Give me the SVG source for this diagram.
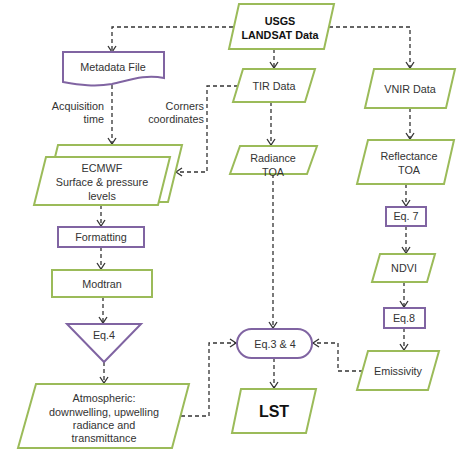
<svg xmlns="http://www.w3.org/2000/svg" width="474" height="455" viewBox="0 0 474 455">
<style>
.g{fill:#fff;stroke:#9bbb59;stroke-width:2}
.p{fill:#fff;stroke:#8064a2;stroke-width:2}
text{font-family:"Liberation Sans",Arial,sans-serif;font-size:10.8px;fill:#333;text-anchor:middle}
.b{font-weight:bold;fill:#111}
.lbl{text-anchor:end}
.c{fill:none;stroke:#333;stroke-width:1.3;stroke-dasharray:4 3;marker-end:url(#a)}
</style>
<defs>
<marker id="a" viewBox="-7 -5 9 10" refX="0" refY="0" markerWidth="9" markerHeight="10" markerUnits="userSpaceOnUse" orient="auto">
<path d="M-6,-4 L0,0 L-6,4" fill="none" stroke="#333" stroke-width="1.3"/>
</marker>
</defs>
<rect width="474" height="455" fill="#fff"/>
<g id="connectors">
<path class="c" d="M233,27 H112 V52"/>
<path class="c" d="M329,27 H410 V68"/>
<path class="c" d="M274,49 V68"/>
<path class="c" d="M238,86 H207 V172 H176"/>
<path class="c" d="M112,85 V144"/>
<path class="c" d="M101,205 V226"/>
<path class="c" d="M101,247 V269"/>
<path class="c" d="M103,297 V323"/>
<path class="c" d="M104,362 V383"/>
<path class="c" d="M181,416 H209 V343 H236"/>
<path class="c" d="M271,102 V145"/>
<path class="c" d="M273,174 V328"/>
<path class="c" d="M274,358 V388"/>
<path class="c" d="M410,108 V139"/>
<path class="c" d="M406,184 V206"/>
<path class="c" d="M406,226 V253"/>
<path class="c" d="M404,282 V307"/>
<path class="c" d="M404,328 V350"/>
<path class="c" d="M363,371 H338 V343 H313"/>
</g>
<g id="labels">
<text class="lbl" x="104" y="110">Acquisition</text>
<text class="lbl" x="104" y="123">time</text>
<text class="lbl" x="204" y="110">Corners</text>
<text class="lbl" x="204" y="123">coordinates</text>
</g>
<g id="usgs">
<polygon class="g" points="239,4 334,4 324,49 229,49"/>
<text class="b" x="280" y="25">USGS</text>
<text class="b" x="280" y="39">LANDSAT Data</text>
</g>
<g id="metadata">
<path class="p" d="M63,52 H164 V78 C145,74 130,80 112,84 C95,87 80,85 63,82 Z"/>
<text x="113" y="71">Metadata File</text>
</g>
<g id="tir">
<polygon class="g" points="243,69 315,69 305,102 233,102"/>
<text x="274" y="90">TIR Data</text>
</g>
<g id="vnir">
<polygon class="g" points="374,69 455,69 446,108 365,108"/>
<text x="410" y="93">VNIR Data</text>
</g>
<g id="ecmwf">
<polygon class="g" points="58,145 182,145 168,202 44,202"/>
<polygon class="g" points="46,157 170,157 158,205 34,205"/>
<text x="102" y="172">ECMWF</text>
<text x="102" y="186">Surface &amp; pressure</text>
<text x="102" y="200">levels</text>
</g>
<g id="radiance">
<polygon class="g" points="240,146 317,146 307,174 230,174"/>
<text x="273" y="162">Radiance</text>
<text x="273" y="176">TOA</text>
</g>
<g id="reflectance">
<polygon class="g" points="368,140 454,140 444,184 357,184"/>
<text x="409" y="160">Reflectance</text>
<text x="409" y="174">TOA</text>
</g>
<g id="eq7">
<rect class="p" x="386" y="207" width="40" height="19"/>
<text x="406" y="220">Eq. 7</text>
</g>
<g id="formatting">
<rect class="p" x="58" y="227" width="86" height="20"/>
<text x="101" y="241">Formatting</text>
</g>
<g id="ndvi">
<polygon class="g" points="380,254 435,254 427,282 372,282"/>
<text x="404" y="272">NDVI</text>
</g>
<g id="modtran">
<rect class="g" x="52" y="270" width="100" height="27"/>
<text x="102" y="288">Modtran</text>
</g>
<g id="eq8">
<rect class="p" x="384" y="308" width="41" height="20"/>
<text x="404" y="322">Eq.8</text>
</g>
<g id="eq4">
<polygon class="p" points="67,324 141,324 104,362"/>
<text x="104" y="339">Eq.4</text>
</g>
<g id="eq34">
<rect class="p" x="237" y="329" width="75" height="29" rx="14.5"/>
<text x="275" y="348">Eq.3 &amp; 4</text>
</g>
<g id="emissivity">
<polygon class="g" points="368,351 439,351 428,390 357,390"/>
<text x="398" y="375">Emissivity</text>
</g>
<g id="lst">
<polygon class="g" points="241,389 316,389 306,433 232,433"/>
<text class="b" x="274" y="417" style="font-size:16px">LST</text>
</g>
<g id="atmospheric">
<polygon class="g" points="36,384 189,384 172,448 18,448"/>
<text x="104" y="402">Atmospheric:</text>
<text x="104" y="416">downwelling, upwelling</text>
<text x="104" y="429">radiance and</text>
<text x="104" y="442">transmittance</text>
</g>
</svg>
